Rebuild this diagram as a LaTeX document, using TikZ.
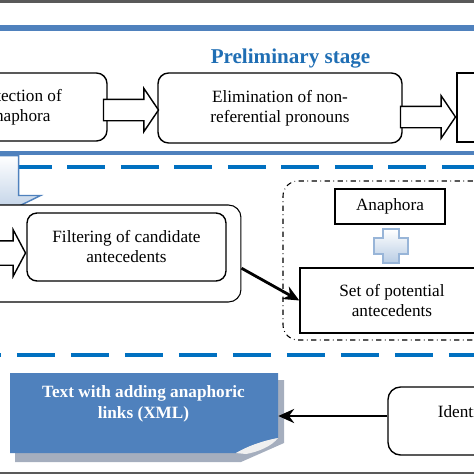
\documentclass[tikz,border=0pt]{standalone}
\usepackage{fontspec}
\setmainfont{Liberation Serif}
\usetikzlibrary{calc,shapes.arrows,arrows.meta}

\definecolor{lineblue}{RGB}{79,129,189}
\definecolor{dashblue}{RGB}{0,112,192}
\definecolor{titleblue}{RGB}{31,110,180}
\definecolor{paleblue}{RGB}{184,204,228}
\definecolor{shadowgray}{RGB}{165,174,190}

\begin{document}
\begin{tikzpicture}[x=0.02cm,y=-0.02cm,
  font=\fontsize{9.8pt}{11.4pt}\selectfont,
  roundbox/.style={draw, line width=0.8pt, rounded corners=6pt, align=center, fill=white},
  plainbox/.style={draw, line width=0.8pt, align=center, fill=white},
  blockarrow/.style={draw, line width=0.8pt, fill=white, single arrow,
    inner sep=0.2cm, single arrow head indent=0pt},
  thickarrow/.style={line width=1.6pt, -{Stealth[length=9pt,width=8pt]}}]
  \useasboundingbox (0,0) rectangle (474,474);
  \clip (0,0) rectangle (474,474);

  % frame bars and stage separators
  \fill[black!65] (0,0) rectangle (474,2.5);
  \fill[black!65] (0,471.5) rectangle (474,474);
  \draw[lineblue, line width=0.12cm] (0,28) -- (474,28);
  \draw[lineblue, line width=0.09cm] (0,153) -- (474,153);
  \draw[dashblue, line width=0.08cm, dash pattern=on 0.76cm off 0.31cm] (14,167) -- (480,167);
  \draw[dashblue, line width=0.08cm, dash pattern=on 0.76cm off 0.32cm] (-37,355) -- (480,355);

  \node (title) [anchor=base, font=\fontsize{12pt}{14pt}\selectfont\bfseries, text=titleblue]
    at (290.5,63) {Preliminary stage};

  % preliminary stage
  \node (detect) [roundbox, minimum width=3.52cm, minimum height=1.36cm] at (19,107)
    {Detection of\\anaphora};
  \node (elim) [roundbox, minimum width=4.88cm, minimum height=1.4cm] at (280,108)
    {Elimination of non-\\referential pronouns};
  \node (third) [plainbox, minimum width=2.92cm, minimum height=1.38cm] at (530,107.5) {};

  \node (arr1) [blockarrow, minimum height=1.1cm,
    single arrow head extend=0.22cm, single arrow tip angle=112, anchor=tip]
    at ([xshift=0.04cm,yshift=-0.04cm]elim.west) {};
  \node (arr2) [blockarrow, minimum height=1.1cm,
    single arrow head extend=0.21cm, single arrow tip angle=112, anchor=tip]
    at ([yshift=-0.19cm]third.west) {};

  \node (down) [single arrow, shape border rotate=270, draw=lineblue, line width=0.8pt,
    top color=white, bottom color=paleblue, inner sep=0.46cm, single arrow head indent=0pt,
    minimum height=1.24cm, single arrow head extend=0.44cm,
    single arrow tip angle=128] at (-5,181) {};

  % candidate filtering
  \node (filterbox) [roundbox, line width=0.6pt, minimum width=5.82cm, minimum height=1.94cm,
    rounded corners=0.25cm] at (95.5,253.5) {};
  \node (filter) [roundbox, minimum width=3.98cm, minimum height=1.36cm, rounded corners=0.2cm]
    at (126.5,247) {Filtering of candidate\\antecedents};
  \node (arr3) [blockarrow, inner sep=0.23cm, minimum height=0.94cm,
    single arrow head extend=0.22cm, single arrow tip angle=124, anchor=tip]
    at ([yshift=-0.12cm]filter.west) {};

  \node (potbox) [draw, dash dot, line width=0.6pt, rounded corners=0.3cm,
    minimum width=4.36cm, minimum height=3.18cm] at (392,260.5) {};
  \node (anaphora) [plainbox, minimum width=2.2cm, minimum height=0.7cm] at (390,206.5) {Anaphora};
  \node (setpot) [plainbox, minimum width=3.68cm, minimum height=1.3cm] at (392,300.5)
    {Set of potential\\antecedents};

  \coordinate (plus) at ($(anaphora.south)!0.5!(setpot.north)$);
  \draw[draw=paleblue!70!lineblue, line width=0.6pt, top color=white, bottom color=paleblue,
    shift={(plus)}] (-8,-17) -- (8,-17) -- (8,-8) -- (17,-8) -- (17,8) -- (8,8) -- (8,17)
    -- (-8,17) -- (-8,8) -- (-17,8) -- (-17,-8) -- (-8,-8) -- cycle;

  \draw[thickarrow] ($(filterbox.north east)!0.65!(filterbox.south east)$) -- (setpot.west);

  % result
  \fill[shadowgray] (15,380) -- (284,380) -- (284,443) -- (241,462) -- (15,462) -- cycle;
  \fill[lineblue] (10,373) -- (278,373) -- (278,438)
    .. controls (262,441) and (246,447) .. (236,453) -- (10,453) -- cycle;
  \fill[gray!12] (236,453) .. controls (248,446) and (262,441) .. (278,438)
    .. controls (272,446) and (258,452) .. (246,454) -- cycle;
  \node (note) [minimum width=5.36cm, minimum height=1.6cm, inner sep=0pt] at (144,413) {};
  \node (notetext) [align=center, text=white, font=\fontsize{9.8pt}{11.6pt}\selectfont\bfseries]
    at (143.5,404) {Text with adding anaphoric\\links (XML)};

  \node (ident) [roundbox, minimum width=4.22cm, minimum height=1.36cm, rounded corners=0.25cm]
    at (493.5,421) {Identification of\\ \mbox{}};
  \coordinate (identin) at ([yshift=0.1cm]ident.west);
  \draw[thickarrow] (identin) -- (identin -| note.east);
\end{tikzpicture}
\end{document}
